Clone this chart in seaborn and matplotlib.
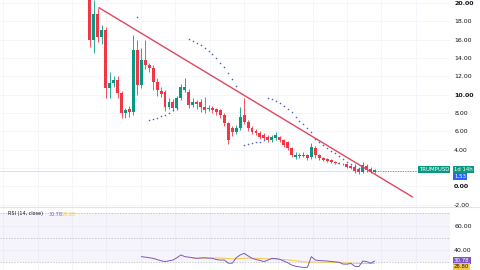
import numpy as np
import pandas as pd
import matplotlib
matplotlib.use('Agg')
import matplotlib.pyplot as plt
import seaborn as sns

# daily candles (TRUMPUSD)
opens = [21.5, 16.0, 18.8, 16.3, 17.1, 10.7, 11.3, 11.6, 10.2, 8.0, 8.4, 8.1, 14.9, 11.1, 13.8, 13.2,
         12.9, 11.4, 10.4, 10.3, 8.7, 9.2, 8.6, 9.6, 10.5, 10.3, 8.9, 9.2, 9.2, 8.7, 8.4, 8.6, 8.4,
         8.3, 7.8, 6.9, 6.4, 5.9, 6.4, 7.8, 7.0, 6.4, 6.1, 5.8, 5.6, 5.4, 5.1, 5.3, 5.4, 5.1, 4.8,
         4.2, 3.2, 3.4, 3.3, 3.4, 3.2, 4.2, 3.4, 3.1, 3.0, 2.9, 2.7, 2.6, 2.4, 2.4, 2.2, 2.1, 1.9,
         1.6, 2.2, 1.9, 1.6]
closes = [16.0, 18.8, 16.3, 17.1, 10.7, 11.3, 11.6, 10.2, 8.0, 8.3, 8.1, 14.9, 11.1, 13.8, 13.2, 12.9,
          11.4, 10.5, 10.1, 8.7, 9.2, 8.6, 9.6, 10.8, 10.8, 8.9, 9.2, 9.0, 8.7, 8.3, 8.6, 8.3, 8.1,
          7.8, 6.9, 5.1, 5.9, 6.4, 7.6, 7.0, 6.4, 5.9, 5.8, 5.4, 5.3, 5.1, 5.4, 5.6, 5.1, 4.5, 4.2,
          3.4, 3.4, 3.3, 3.4, 3.1, 4.3, 3.4, 3.1, 2.9, 2.8, 2.7, 2.6, 2.5, 2.5, 2.1, 2.0, 1.7, 1.6,
          2.3, 1.8, 1.6, 1.8]
highs = [22.5, 20.3, 19.5, 17.6, 17.4, 12.5, 12.0, 12.0, 10.4, 8.6, 8.8, 16.5, 16.0, 15.1, 16.0, 13.5,
         13.2, 11.8, 10.8, 10.5, 9.6, 9.5, 9.9, 11.2, 11.8, 10.6, 9.6, 9.4, 9.5, 9.8, 8.9, 8.8, 8.6,
         8.5, 8.0, 7.0, 6.6, 6.7, 8.7, 9.6, 7.2, 6.6, 6.3, 6.0, 5.8, 5.6, 5.6, 5.9, 5.5, 5.2, 5.0,
         4.3, 3.8, 3.6, 3.8, 3.5, 4.7, 4.4, 3.5, 3.2, 3.1, 3.0, 2.8, 2.7, 2.6, 2.5, 2.3, 2.4, 2.0,
         2.7, 2.4, 2.1, 1.9]
lows = [15.2, 14.6, 15.8, 15.5, 9.6, 9.6, 10.8, 9.6, 7.5, 7.5, 7.6, 7.8, 10.0, 10.7, 12.8, 12.5,
        10.5, 9.9, 9.8, 8.2, 8.4, 8.2, 8.3, 9.4, 10.3, 8.6, 8.7, 8.4, 8.1, 8.0, 8.2, 8.0, 7.8,
        7.5, 6.6, 4.6, 5.5, 5.7, 6.2, 6.8, 6.1, 5.7, 5.6, 5.2, 5.1, 4.9, 4.9, 5.1, 4.9, 4.3, 4.0,
        3.2, 3.0, 3.1, 3.2, 2.9, 3.0, 3.1, 2.9, 2.8, 2.7, 2.6, 2.5, 2.4, 2.3, 2.0, 1.9, 1.5, 1.4,
        1.5, 1.6, 1.5, 1.5]
last_price = 1.72

# parabolic SAR dots (candle index, price)
sar_x = [12, 15, 16, 17, 18, 19, 20, 21, 22,
         25, 26, 27, 28, 29, 30, 31, 32, 33, 34, 35, 36, 37,
         39, 40, 41, 42, 43, 44,
         45, 46, 47, 48, 49, 50, 51, 52, 53, 54, 55, 56, 57, 58, 59, 60, 61, 62, 63, 64, 65, 66, 67, 68, 69]
sar_y = [18.5, 7.2, 7.35, 7.5, 7.65, 7.85, 8.05, 8.3, 8.55,
         16.1, 15.9, 15.7, 15.4, 15.1, 14.8, 14.4, 14.0, 13.5, 13.0, 12.4, 11.7, 11.0,
         4.5, 4.6, 4.7, 4.8, 4.9, 5.05,
         9.65, 9.55, 9.3, 9.05, 8.75, 8.5, 8.1, 7.6, 7.1, 6.8, 6.4, 5.9, 5.2, 4.8, 4.5, 4.2, 3.9,
         3.6, 3.3, 3.0, 2.7, 2.5, 2.2, 2.0, 1.8]

# downtrend line
trend_x = [2.3, 81.6]
trend_y = [19.5, -1.15]

# RSI(14) and its moving average
rsi_start = 13
rsi_vals = [34.4, 34.0, 33.5, 33.0, 32.0, 31.0, 30.3, 31.0, 31.6, 33.5, 35.8, 34.4, 34.0, 33.5, 33.0,
            33.3, 33.5, 33.2, 33.0, 32.0, 31.6, 31.6, 29.0, 29.0, 33.5, 35.8, 37.1, 35.0, 33.0, 32.0,
            31.3, 30.3, 31.5, 33.0, 32.8, 32.2, 30.8, 29.5, 27.5, 26.5, 26.0, 25.5, 25.6, 34.4, 31.6,
            31.2, 31.0, 30.8, 30.4, 30.1, 29.8, 28.3, 28.2, 28.8, 26.5, 26.1, 30.8, 30.3, 29.0, 30.78]
ma_start = 26
ma_vals = [33.0, 33.0, 33.1, 33.1, 33.2, 33.3, 33.3, 33.2, 33.0, 32.8, 32.6, 32.6, 32.8, 33.0, 33.2,
           33.2, 33.1, 32.9, 32.7, 32.6, 32.5, 32.4, 32.2, 32.0, 31.7, 31.4, 31.0, 30.6, 30.2, 29.8,
           29.9, 29.9, 29.8, 29.8, 29.8, 29.7, 29.6, 29.5, 29.3, 29.2, 29.1, 28.9, 28.7, 28.8, 28.8,
           28.8, 28.8]

price_ticks = [-2, 0, 2, 4, 6, 8, 10, 12, 14, 16, 18, 20]
rsi_ticks = [40, 60]

UP, DOWN = '#089981', '#f23645'
TXT = '#131722'

df = pd.DataFrame({'o': opens, 'h': highs, 'l': lows, 'c': closes})
df['t'] = np.arange(len(df))
df['col'] = np.where(df.c >= df.o, UP, DOWN)
df['bot'] = df[['o', 'c']].min(axis=1)
df['hgt'] = (df.c - df.o).abs().clip(lower=0.1)

sns.set_theme(style="white")
plt.rcParams['font.family'] = ['DejaVu Sans']

W, H = 480, 270
fig = plt.figure(figsize=(4.8, 2.7), dpi=100)
ax = fig.add_axes([0, 63 / H, 450 / W, 207 / H])
ax2 = fig.add_axes([0, 0, 450 / W, 63 / H])

xl = (-90 / 3.96, (450 - 90) / 3.96)
grid_x = [(141 + 34.4 * k - 90) / 3.96 for k in range(-4, 10)]

# main price panel
ax.vlines(df.t, df.l, df.h, colors=df.col, lw=0.6, zorder=3)
ax.bar(df.t, df.hgt, bottom=df.bot, width=0.74, color=df.col, edgecolor='none', lw=0, zorder=4)
sns.lineplot(x=trend_x, y=trend_y, ax=ax, color='#e2455f', lw=1.0, zorder=5)
sns.scatterplot(x=sar_x, y=sar_y, ax=ax, color='#4a5fc8', s=1.3, linewidth=0, zorder=5)
ax.axhline(last_price, color='#d1d4dc', lw=0.5, zorder=1)
ax.plot([df.t.iloc[-1], xl[1]], [last_price, last_price], color=UP, lw=0.6, ls=(0, (1, 2)), zorder=2)

ax.set_xlim(xl)
ax.set_ylim(-2.24, 20.34)
ax.set_xticks(grid_x)
ax.set_xticklabels([])
ax.set_yticks(price_ticks)
ax.yaxis.tick_right()
# the 2.00 label sits under the symbol badge in the reference
ax.set_yticklabels(['' if v == 2 else f'{v:.2f}' for v in price_ticks])
ax.tick_params(axis='both', length=0, labelsize=4.5, labelcolor=TXT, pad=3)
for lab, v in zip(ax.get_yticklabels(), price_ticks):
    if v in (0, 10, 20):
        lab.set_fontweight('bold')
ax.grid(True, color='#f0f3fa', lw=0.5)
for s in ax.spines.values():
    s.set_visible(False)

# RSI panel
rx = np.arange(rsi_start, rsi_start + len(rsi_vals))
mx = np.arange(ma_start, ma_start + len(ma_vals))
ax2.axhspan(30, 70, color='#9575cd', alpha=0.08, lw=0)
for lv in (30, 50, 70):
    ax2.axhline(lv, color='#b2b5be', lw=0.5, ls=(0, (2, 2)))
sns.lineplot(x=mx, y=ma_vals, ax=ax2, color='#f5c84c', lw=0.7)
sns.lineplot(x=rx, y=rsi_vals, ax=ax2, color='#7e57c2', lw=0.7)
ax2.set_xlim(xl)
ax2.set_ylim(23.4, 75.3)
ax2.set_xticks(grid_x)
ax2.set_xticklabels([])
ax2.set_yticks(rsi_ticks)
ax2.yaxis.tick_right()
ax2.set_yticklabels([f'{v:.2f}' for v in rsi_ticks])
ax2.tick_params(axis='both', length=0, labelsize=4.5, labelcolor=TXT, pad=3)
ax2.grid(True, color='#f0f3fa', lw=0.5)
for s in ax2.spines.values():
    s.set_visible(False)
fig.add_artist(plt.Line2D([0, 1], [63 / H, 63 / H], color='#e0e3eb', lw=0.8))

# legend text of the RSI pane
fig.text(8 / W, 1 - 214 / H, 'RSI (14, close)', fontsize=3.5, color=TXT, va='center')
fig.text(49 / W, 1 - 214 / H, '30.78', fontsize=3.5, color='#7e57c2', va='center')
fig.text(62 / W, 1 - 214 / H, '28.80', fontsize=3.5, color='#f5c84c', va='center')

# price scale badges
box = dict(boxstyle='square,pad=0.2', ec='none')
fig.text(419 / W, 1 - 169.5 / H, 'TRUMPUSD', fontsize=3.9, color='white', va='center',
         bbox={**box, 'fc': UP}, zorder=10)
fig.text(454 / W, 1 - 169.5 / H, '1d 14h', fontsize=3.9, color='white', va='center',
         bbox={**box, 'fc': UP}, zorder=10)
fig.text(454 / W, 1 - 176.5 / H, '1.53', fontsize=3.9, color='white', va='center',
         bbox={**box, 'fc': '#2962ff'}, zorder=10)
fig.text(454 / W, 1 - 260.5 / H, '30.78', fontsize=3.9, color='white', va='center',
         bbox={**box, 'fc': '#7e57c2'}, zorder=10)
fig.text(454 / W, 1 - 266.5 / H, '28.80', fontsize=3.9, color=TXT, va='center',
         bbox={**box, 'fc': '#f5c84c'}, zorder=10)

fig.savefig('out.png', dpi=100, facecolor='white')
